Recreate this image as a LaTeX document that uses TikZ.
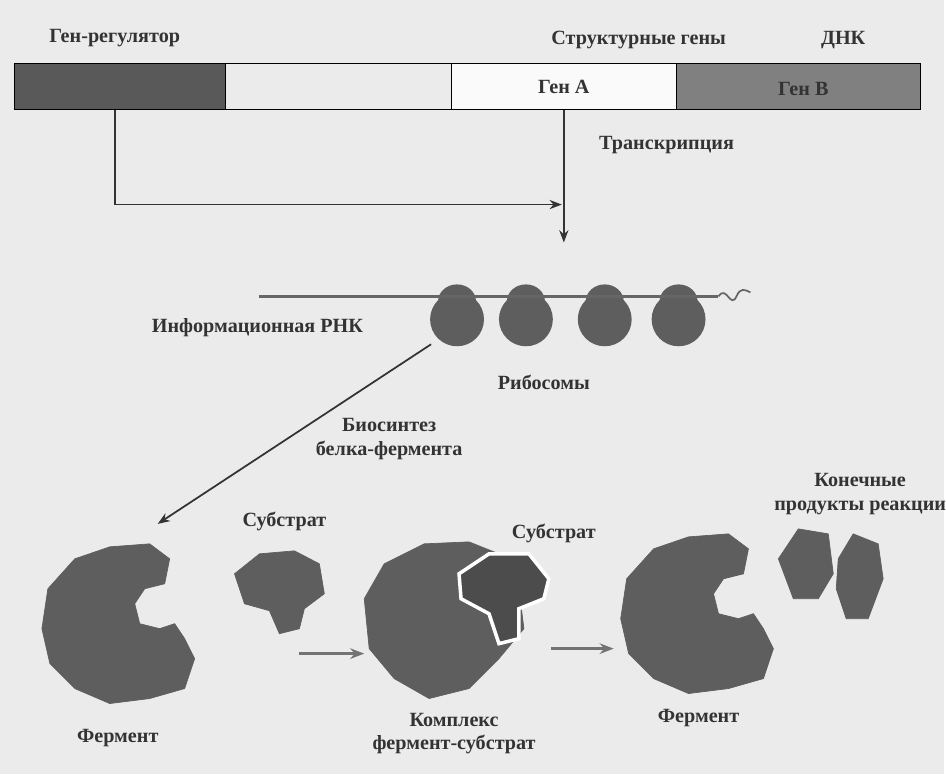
\documentclass[tikz,border=0pt]{standalone}
\usepackage{fontspec}
\setmainfont{Liberation Serif}
\usetikzlibrary{arrows.meta,decorations.pathmorphing}
\definecolor{bg}{HTML}{EBEBEB}
\definecolor{blob}{HTML}{5E5E5E}
\tikzset{lbl/.style={font=\bfseries\fontsize{11.5}{13.5}\selectfont,text=black!80,align=center,inner sep=0pt},
 shape1/.style={fill=blob,draw=blob},
 conn/.style={line width=1pt,black!80,-{Stealth[length=7pt]}},
 flow/.style={line width=2pt,black!55,-{Stealth[length=8pt]}}}
\begin{document}
\begin{tikzpicture}[x=0.02cm,y=-0.02cm]
\fill[bg] (0,0) rectangle (946,776);
% DNA
\draw[fill=black!65] (14,63) rectangle (226,110);
\draw[fill=black!8] (226,63) rectangle (452,110);
\draw[fill=black!2] (452,63) rectangle (678,110);
\draw[fill=black!50] (678,63) rectangle (922,110);
\node[lbl] (ga) at (565,87) {Ген А};
\node[lbl] (gb) at (805,89) {Ген В};
\node[lbl] (gr) at (115,38) {Ген-регулятор};
\node[lbl] (sg) at (640,40) {Структурные гены};
\node[lbl] (dnk) at (845,40) {ДНК};
\coordinate (r0) at (115,110); \coordinate (r1) at (115,205); \coordinate (r2) at (563,205);
\coordinate (a0) at (565,110); \coordinate (a1) at (565,243);
\draw[conn] (r0) -- (r1) -- (r2);
\draw[conn] (a0) -- (a1);
\node[lbl] (tr) at (668,145) {Транскрипция};
% mRNA
\coordinate (m0) at (260,297); \coordinate (m1) at (720,297);
\foreach \x in {458,527,606,680}{
 \fill[blob] (\x,302) ellipse (19 and 17);
 \fill[blob] (\x,320) circle (27);}
\draw[line width=1.5pt,black!60] (m0) -- (m1);
\draw[line width=1pt,black!60] (m1) .. controls (728,285) and (732,310) .. (738,297) .. controls (742,288) and (746,290) .. (752,293);
\node[lbl] (irnk) at (258,328) {Информационная РНК};
\node[lbl] (rib) at (545,383) {Рибосомы};
\coordinate (b0) at (432,345); \coordinate (b1) at (158,525);
\draw[conn] (b0) -- (b1);
\node[lbl] (bio) at (390,440) {Биосинтез\\белка-фермента};
% blobs
\fill[shape1] (48,590)--(75,560)--(110,548)--(150,545)--(170,560)--(165,585)--(145,590)--(135,605)--(140,625)--(160,630)--(175,625)--(185,640)--(195,660)--(185,690)--(150,700)--(110,705)--(75,690)--(50,665)--(42,630)--cycle;
\fill[shape1] (235,575)--(260,555)--(295,552)--(320,565)--(325,595)--(305,610)--(300,630)--(280,635)--(270,612)--(245,605)--cycle;
\fill[shape1] (365,600)--(385,565)--(425,545)--(470,543)--(500,555)--(520,590)--(525,630)--(500,660)--(470,690)--(430,700)--(395,680)--(370,650)--cycle;
\draw[fill=black!70,draw=white,line width=2pt] (460,575)--(490,555)--(530,555)--(550,580)--(545,600)--(520,610)--(520,640)--(500,645)--(490,615)--(462,600)--cycle;
\begin{scope}[shift={(580,-10)}]
\fill[shape1] (48,590)--(75,560)--(110,548)--(150,545)--(170,560)--(165,585)--(145,590)--(135,605)--(140,625)--(160,630)--(175,625)--(185,640)--(195,660)--(185,690)--(150,700)--(110,705)--(75,690)--(50,665)--(42,630)--cycle;
\end{scope}
\fill[shape1] (780,560)--(800,530)--(830,535)--(835,575)--(820,600)--(795,600)--cycle;
\fill[shape1] (840,560)--(855,535)--(880,545)--(885,580)--(870,620)--(848,620)--(838,590)--cycle;
\coordinate (f0) at (300,655); \coordinate (f1) at (365,655);
\coordinate (g0) at (552,650); \coordinate (g1) at (615,650);
\draw[flow] (f0) -- (f1);
\draw[flow] (g0) -- (g1);
\node[lbl] (fe1) at (118,740) {Фермент};
\node[lbl] (su1) at (285,523) {Субстрат};
\node[lbl] (su2) at (555,535) {Субстрат};
\node[lbl] (kfs) at (455,735) {Комплекс\\фермент-субстрат};
\node[lbl] (fe2) at (700,720) {Фермент};
\node[lbl] (kp) at (862,495) {Конечные\\продукты реакции};
\end{tikzpicture}
\end{document}
